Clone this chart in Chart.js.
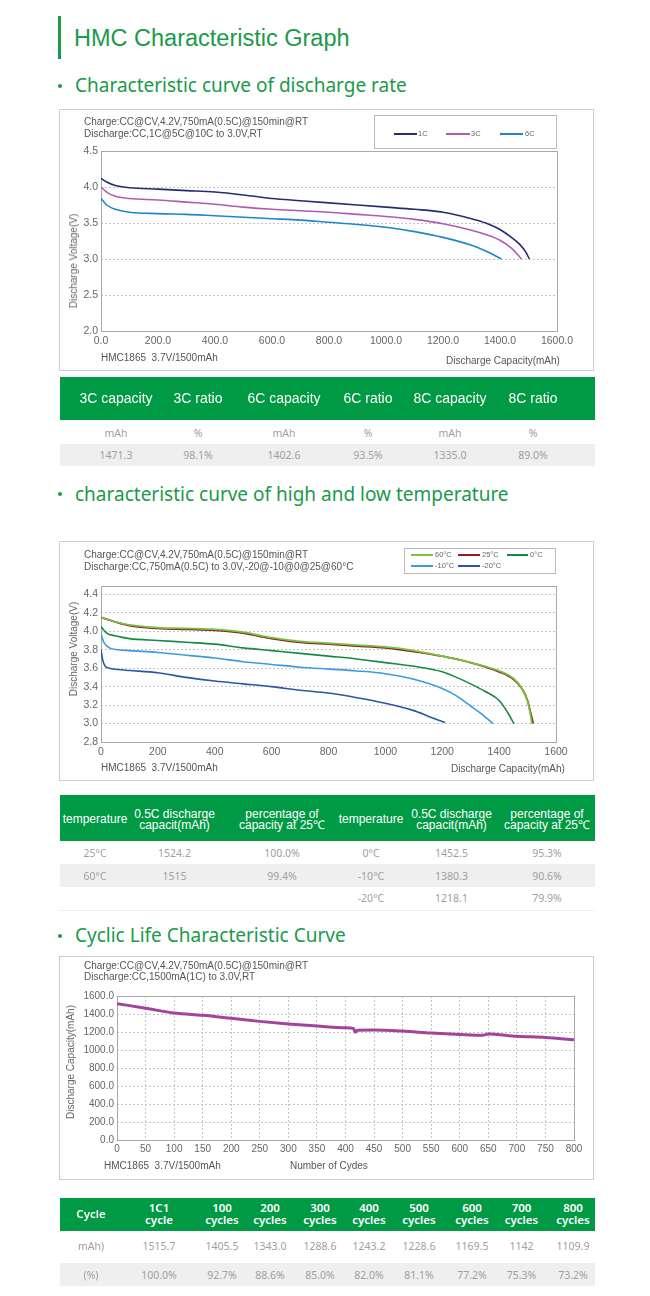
<!DOCTYPE html>
<html><head><meta charset="utf-8">
<script src="https://cdn.jsdelivr.net/npm/chart.js@4.4.0/dist/chart.umd.min.js"></script>
<style>
html,body{margin:0;padding:0;background:#fff;}
body{width:650px;height:1296px;position:relative;overflow:hidden;font-family:"Liberation Sans",Arial,sans-serif;}
.a{position:absolute;white-space:nowrap;line-height:1;}
.c{transform:translate(-50%,-50%);text-align:center;}
.l{transform:translate(0,-50%);}
.box{position:absolute;border:1px solid #cfcfcf;box-sizing:border-box;}
.sec{position:absolute;left:75px;font-family:"Noto Sans",sans-serif;font-size:19px;color:#1a9a4a;line-height:1;white-space:nowrap;transform:translate(0,-50%);}
.dot{position:absolute;width:4px;height:4px;border-radius:50%;background:#1a9a4a;}
.note{font-size:10px;color:#555;}
.ytitle{font-size:10px;color:#666;transform:translate(-50%,-50%) rotate(-90deg);}
.green{position:absolute;left:60px;width:535px;background:#009a44;}
.grey{position:absolute;left:60px;width:535px;background:#efefef;}
.th{color:#fff;font-size:14px;}
.th2{color:#fff;font-size:12px;line-height:10.5px;}
.th3{color:#fff;font-size:11.5px;line-height:12px;font-family:"Noto Sans",sans-serif;font-weight:600;}
.td{color:#a0a0a0;font-size:10.5px;font-family:"Noto Sans",sans-serif;}
.lg{font-size:7.5px;color:#666;}
.ln{position:absolute;height:2px;}
canvas{position:absolute;}
</style>
</head><body>

<div style="position:absolute;left:58px;top:16px;width:3px;height:43px;background:#1a9a4a"></div>
<div class="a l" style="left:74px;top:39px;font-size:23.5px;color:#1a9a4a">HMC Characteristic Graph</div>

<div class="dot" style="left:58px;top:84px"></div>
<div class="sec" style="top:85px">Characteristic curve of discharge rate</div>
<div class="dot" style="left:58px;top:492px"></div>
<div class="sec" style="top:494px">characteristic curve of high and low temperature</div>
<div class="dot" style="left:58px;top:934px"></div>
<div class="sec" style="top:935px">Cyclic Life Characteristic Curve</div>

<!-- chart 1 -->
<div class="box" style="left:59px;top:109px;width:535px;height:262px"></div>
<canvas id="c1" width="535" height="262" style="left:59px;top:109px;width:535px;height:262px"></canvas>
<div class="a l note" style="left:84px;top:122px">Charge:CC@CV,4.2V,750mA(0.5C)@150min@RT</div>
<div class="a l note" style="left:84px;top:134px">Discharge:CC,1C@5C@10C to 3.0V,RT</div>
<div class="a ytitle" style="left:74px;top:261px">Discharge Voltage(V)</div>
<div class="a l note" style="left:101px;top:358px">HMC1865&nbsp;&nbsp;3.7V/1500mAh</div>
<div class="a l note" style="left:446px;top:361px">Discharge Capacity(mAh)</div>
<div class="box" style="left:374px;top:115px;width:183px;height:34px;border-color:#bbb"></div>
<div class="ln" style="left:394px;top:133px;width:23px;background:#262d6e"></div>
<div class="a l lg" style="left:418px;top:134px">1C</div>
<div class="ln" style="left:446px;top:133px;width:24px;background:#b05bb0"></div>
<div class="a l lg" style="left:471px;top:134px">3C</div>
<div class="ln" style="left:500px;top:133px;width:23px;background:#1f86c8"></div>
<div class="a l lg" style="left:525px;top:134px">6C</div>

<!-- table 1 -->
<div class="green" style="top:377px;height:43px"></div>
<div class="grey" style="top:444px;height:22px"></div>
<div id="t1"></div>

<!-- chart 2 -->
<div class="box" style="left:59px;top:541px;width:535px;height:240px"></div>
<canvas id="c2" width="535" height="240" style="left:59px;top:541px;width:535px;height:240px"></canvas>
<div class="a l note" style="left:84px;top:555px">Charge:CC@CV,4.2V,750mA(0.5C)@150min@RT</div>
<div class="a l note" style="left:84px;top:567px">Discharge:CC,750mA(0.5C) to 3.0V,-20@-10@0@25@60°C</div>
<div class="a ytitle" style="left:74px;top:649px">Discharge Voltage(V)</div>
<div class="a l note" style="left:101px;top:768px">HMC1865&nbsp;&nbsp;3.7V/1500mAh</div>
<div class="a l note" style="left:451px;top:769px">Discharge Capacity(mAh)</div>
<div class="box" style="left:404px;top:548px;width:152px;height:26px;border-color:#bbb"></div>
<div class="ln" style="left:411px;top:554px;width:22px;background:#7ac143"></div>
<div class="a l lg" style="left:435px;top:555px">60°C</div>
<div class="ln" style="left:458px;top:554px;width:22px;background:#8b1e24"></div>
<div class="a l lg" style="left:482px;top:555px">25°C</div>
<div class="ln" style="left:507px;top:554px;width:21px;background:#168a45"></div>
<div class="a l lg" style="left:530px;top:555px">0°C</div>
<div class="ln" style="left:411px;top:565px;width:22px;background:#3b9be0"></div>
<div class="a l lg" style="left:435px;top:566px">-10°C</div>
<div class="ln" style="left:458px;top:565px;width:22px;background:#2b55a8"></div>
<div class="a l lg" style="left:482px;top:566px">-20°C</div>

<!-- table 2 -->
<div class="green" style="top:795px;height:46px"></div>
<div class="grey" style="top:864px;height:23px"></div>
<div style="position:absolute;left:60px;top:910px;width:535px;height:1px;background:#eee"></div>
<div id="t2"></div>

<!-- chart 3 -->
<div class="box" style="left:59px;top:956px;width:535px;height:224px"></div>
<canvas id="c3" width="535" height="224" style="left:59px;top:956px;width:535px;height:224px"></canvas>
<div class="a l note" style="left:84px;top:966px">Charge:CC@CV,4.2V,750mA(0.5C)@150min@RT</div>
<div class="a l note" style="left:84px;top:977px">Discharge:CC,1500mA(1C) to 3.0V,RT</div>
<div class="a ytitle" style="left:71px;top:1062px">Discharge Capacity(mAh)</div>
<div class="a l note" style="left:104px;top:1166px">HMC1865&nbsp;&nbsp;3.7V/1500mAh</div>
<div class="a l note" style="left:290px;top:1166px">Number of Cydes</div>

<!-- table 3 -->
<div class="green" style="top:1198px;height:33px"></div>
<div class="grey" style="top:1263px;height:23px"></div>
<div id="t3"></div>

<script>
// ---------- DATA ----------
// Chart 1: discharge rate
const c1_1C_x = [0, 20, 50, 100, 200, 300, 400, 500, 600, 700, 800, 900, 1000, 1100, 1200, 1300, 1350, 1400, 1440, 1470, 1490, 1503];
const c1_1C_y = [4.12, 4.07, 4.02, 3.99, 3.97, 3.95, 3.93, 3.89, 3.84, 3.81, 3.78, 3.75, 3.72, 3.69, 3.65, 3.56, 3.50, 3.41, 3.30, 3.20, 3.10, 3.00];
const c1_3C_x = [0, 20, 50, 100, 200, 300, 400, 500, 600, 700, 800, 900, 1000, 1100, 1200, 1300, 1350, 1400, 1440, 1460, 1475];
const c1_3C_y = [4.00, 3.93, 3.87, 3.84, 3.82, 3.79, 3.76, 3.72, 3.69, 3.67, 3.65, 3.62, 3.59, 3.55, 3.49, 3.40, 3.34, 3.26, 3.15, 3.07, 3.00];
const c1_6C_x = [0, 20, 50, 100, 200, 300, 400, 500, 600, 700, 800, 900, 1000, 1100, 1200, 1300, 1350, 1405];
const c1_6C_y = [3.84, 3.75, 3.69, 3.65, 3.63, 3.62, 3.60, 3.58, 3.56, 3.54, 3.51, 3.48, 3.44, 3.38, 3.30, 3.19, 3.11, 3.00];
const c1_xTicks = [0, 200, 400, 600, 800, 1000, 1200, 1400, 1600];
const c1_xLabels = ['0.0','200.0','400.0','600.0','800.0','1000.0','1200.0','1400.0','1600.0'];
const c1_yTicks = [2.0, 2.5, 3.0, 3.5, 4.0, 4.5];
const c1_yLabels = ['2.0','2.5','3.0','3.5','4.0','4.5'];

// Chart 2: temperature
const c2_60_x = [0, 50, 100, 200, 300, 400, 500, 600, 700, 800, 900, 1000, 1100, 1200, 1300, 1400, 1450, 1480, 1500, 1510, 1515];
const c2_60_y = [4.15, 4.10, 4.07, 4.04, 4.03, 4.02, 3.99, 3.93, 3.89, 3.87, 3.85, 3.83, 3.79, 3.73, 3.66, 3.57, 3.49, 3.38, 3.24, 3.10, 3.00];
const c2_25_x = [0, 50, 100, 200, 300, 400, 500, 550, 600, 700, 800, 900, 1000, 1100, 1200, 1300, 1400, 1450, 1480, 1500, 1512, 1520];
const c2_25_y = [4.15, 4.10, 4.06, 4.03, 4.02, 4.01, 3.98, 3.95, 3.92, 3.88, 3.86, 3.84, 3.82, 3.78, 3.73, 3.66, 3.56, 3.48, 3.38, 3.25, 3.10, 3.00];
const c2_0_x = [0, 20, 50, 100, 200, 300, 400, 500, 600, 700, 800, 900, 1000, 1100, 1200, 1250, 1300, 1350, 1400, 1430, 1452];
const c2_0_y = [4.05, 3.98, 3.95, 3.92, 3.90, 3.88, 3.86, 3.82, 3.79, 3.76, 3.73, 3.70, 3.66, 3.62, 3.56, 3.50, 3.43, 3.35, 3.25, 3.12, 3.00];
const c2_m10_x = [0, 10, 30, 60, 100, 200, 300, 400, 500, 600, 700, 800, 900, 1000, 1100, 1200, 1250, 1300, 1340, 1378];
const c2_m10_y = [3.97, 3.88, 3.82, 3.80, 3.79, 3.77, 3.74, 3.71, 3.67, 3.64, 3.61, 3.59, 3.57, 3.54, 3.48, 3.38, 3.30, 3.19, 3.10, 3.00];
const c2_m20_x = [0, 5, 15, 30, 60, 100, 200, 300, 400, 500, 600, 700, 800, 900, 1000, 1100, 1150, 1210];
const c2_m20_y = [3.80, 3.70, 3.62, 3.60, 3.585, 3.575, 3.55, 3.50, 3.46, 3.43, 3.40, 3.36, 3.33, 3.28, 3.22, 3.14, 3.08, 3.01];
const c2_xTicks = [0, 200, 400, 600, 800, 1000, 1200, 1400, 1600];
const c2_xLabels = ['0','200','400','600','800','1000','1200','1400','1600'];
const c2_yTicks = [2.8, 3.0, 3.2, 3.4, 3.6, 3.8, 4.0, 4.2, 4.4];
const c2_yLabels = ['2.8','3.0','3.2','3.4','3.6','3.8','4.0','4.2','4.4'];

// Chart 3: cycle life
const c3_x = [0, 50, 100, 150, 200, 250, 300, 350, 400, 414, 417, 421, 450, 500, 550, 600, 640, 650, 700, 750, 800];
const c3_y = [1515, 1465, 1410, 1385, 1352, 1318, 1290, 1267, 1246, 1240, 1198, 1220, 1222, 1210, 1188, 1172, 1163, 1178, 1152, 1140, 1114];
const c3_xTicks = [0,50,100,150,200,250,300,350,400,450,500,550,600,650,700,750,800];
const c3_xLabels = ['0','50','100','150','200','250','300','350','400','450','500','550','600','650','700','750','800'];
const c3_yTicks = [0,200,400,600,800,1000,1200,1400,1600];
const c3_yLabels = ['0.0','200.0','400.0','600.0','800.0','1000.0','1200.0','1400.0','1600.0'];

// Tables
const t1_head = ['3C capacity','3C ratio','6C capacity','6C ratio','8C capacity','8C ratio'];
const t1_units = ['mAh','%','mAh','%','mAh','%'];
const t1_vals = ['1471.3','98.1%','1402.6','93.5%','1335.0','89.0%'];
const t2_head = ['temperature','0.5C discharge<br>capacit(mAh)','percentage of<br>capacity at 25℃','temperature','0.5C discharge<br>capacit(mAh)','percentage of<br>capacity at 25℃'];
const t2_rows = [
  ['25°C','1524.2','100.0%','0°C','1452.5','95.3%'],
  ['60°C','1515','99.4%','-10°C','1380.3','90.6%'],
  ['','','','-20°C','1218.1','79.9%']
];
const t3_head = ['Cycle','1C1<br>cycle','100<br>cycles','200<br>cycles','300<br>cycles','400<br>cycles','500<br>cycles','600<br>cycles','700<br>cycles','800<br>cycles'];
const t3_mah = ['mAh)','1515.7','1405.5','1343.0','1288.6','1243.2','1228.6','1169.5','1142','1109.9'];
const t3_pct = ['(%)','100.0%','92.7%','88.6%','85.0%','82.0%','81.1%','77.2%','75.3%','73.2%'];

// ---------- TABLE LAYOUT ----------
function row(parent, items, xs, y, cls){
  const p = document.getElementById(parent);
  items.forEach((t,i)=>{
    const d = document.createElement('div');
    d.className = 'a c ' + cls;
    d.style.left = xs[i] + 'px'; d.style.top = y + 'px';
    d.innerHTML = t; p.appendChild(d);
  });
}
const t1x = [116,198,284,368,450,533];
row('t1', t1_head, t1x, 398, 'th');
row('t1', t1_units, t1x, 433, 'td');
row('t1', t1_vals, t1x, 455, 'td');
const t2x = [95,174.5,282,371,451.5,547];
row('t2', t2_head, t2x, 819, 'th2');
row('t2', t2_rows[0], t2x, 853, 'td');
row('t2', t2_rows[1], t2x, 876, 'td');
row('t2', t2_rows[2], t2x, 898, 'td');
const t3x = [91,159,222,270,320,369,419,472,521.5,573];
row('t3', t3_head, t3x, 1214, 'th3');
row('t3', t3_mah, t3x, 1246, 'td');
row('t3', t3_pct, t3x, 1275, 'td');

// ---------- CHARTS ----------
const pts = (xs, ys) => xs.map((x,i)=>({x, y: ys[i]}));
const frame = {
  id: 'frame',
  beforeDatasetsDraw(chart){
    const {ctx, chartArea:a} = chart;
    ctx.save(); ctx.strokeStyle = '#a8a8a8'; ctx.lineWidth = 1;
    ctx.strokeRect(Math.round(a.left)+0.5, Math.round(a.top)+0.5, Math.round(a.right-a.left), Math.round(a.bottom-a.top));
    ctx.restore();
  }
};
function ds(label, xs, ys, color, w){
  return {label, data: pts(xs, ys), borderColor: color, backgroundColor: color, borderWidth: w,
          pointRadius: 0, cubicInterpolationMode: 'monotone', fill: false};
}
function makeChart(id, datasets, o){
  return new Chart(document.getElementById(id), {
    type: 'line',
    data: {datasets},
    plugins: [frame],
    options: {
      responsive: false, animation: false,
      layout: {padding: {top: o.padTop, right: o.padRight, left: 0, bottom: 0}},
      plugins: {legend: {display: false}, tooltip: {enabled: false}},
      scales: {
        x: {
          type: 'linear', min: o.xMin, max: o.xMax,
          afterBuildTicks: s => { s.ticks = o.xTicks.map(v => ({value: v})); },
          afterFit: s => { s.height = o.xH; },
          ticks: {callback: (v, i) => o.xLabels[i], maxRotation: 0, autoSkip: false, padding: o.xPad,
                  color: '#666', font: {family: 'Liberation Sans', size: o.fs}},
          grid: {display: o.vGrid, drawTicks: false, color: '#c4c4c4'},
          border: {display: false, dash: [2, 2]}
        },
        y: {
          type: 'linear', min: o.yMin, max: o.yMax,
          afterBuildTicks: s => { s.ticks = o.yTicks.map(v => ({value: v})); },
          afterFit: s => { s.width = o.yW; },
          ticks: {callback: (v, i) => o.yLabels[i], autoSkip: false, padding: 3,
                  color: '#666', font: {family: 'Liberation Sans', size: o.fs}},
          grid: {drawTicks: false, color: '#c4c4c4'},
          border: {display: false, dash: [2, 2]}
        }
      }
    }
  });
}

makeChart('c1', [
  ds('1C', c1_1C_x, c1_1C_y, '#262d6e', 1.6),
  ds('3C', c1_3C_x, c1_3C_y, '#b05bb0', 1.6),
  ds('6C', c1_6C_x, c1_6C_y, '#1f86c8', 1.6)
], {padTop: 42, padRight: 37, xH: 40, yW: 42, xPad: 4, fs: 10.5, vGrid: false,
    xMin: 0, xMax: 1600, yMin: 2.0, yMax: 4.5,
    xTicks: c1_xTicks, xLabels: c1_xLabels, yTicks: c1_yTicks, yLabels: c1_yLabels});

makeChart('c2', [
  ds('60°C', c2_60_x, c2_60_y, '#7ac143', 1.8),
  ds('25°C', c2_25_x, c2_25_y, '#8b1e24', 1.8),
  ds('0°C', c2_0_x, c2_0_y, '#168a45', 1.6),
  ds('-10°C', c2_m10_x, c2_m10_y, '#3b9be0', 1.6),
  ds('-20°C', c2_m20_x, c2_m20_y, '#2b55a8', 1.6)
], {padTop: 45, padRight: 38, xH: 39, yW: 42, xPad: 4, fs: 10.5, vGrid: false,
    xMin: 0, xMax: 1600, yMin: 2.8, yMax: 4.49,
    xTicks: c2_xTicks, xLabels: c2_xLabels, yTicks: c2_yTicks, yLabels: c2_yLabels});

makeChart('c3', [
  ds('Capacity', c3_x, c3_y, '#a3449c', 3)
], {padTop: 40, padRight: 20, xH: 40, yW: 58, xPad: 3, fs: 10, vGrid: true,
    xMin: 0, xMax: 800, yMin: 0, yMax: 1600,
    xTicks: c3_xTicks, xLabels: c3_xLabels, yTicks: c3_yTicks, yLabels: c3_yLabels});
</script>
</body></html>
